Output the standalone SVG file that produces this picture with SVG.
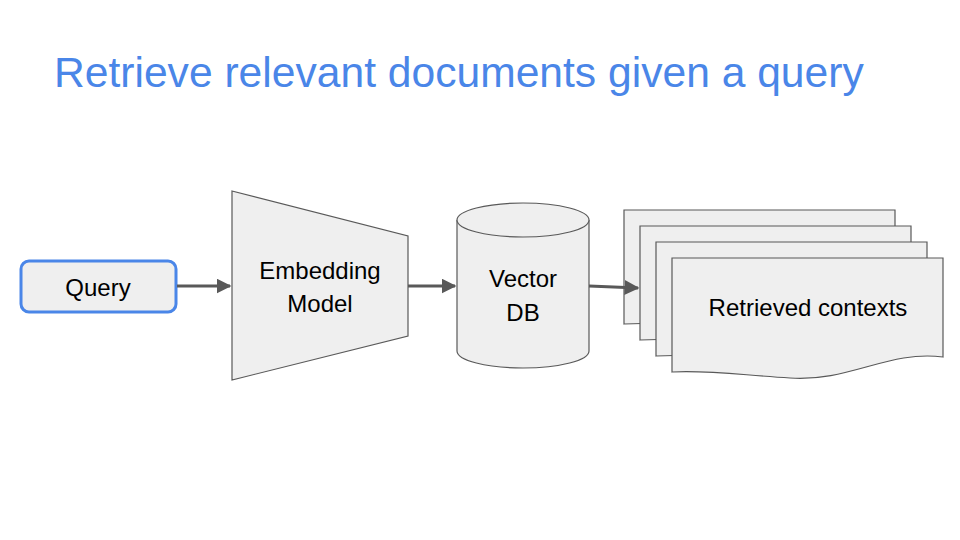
<svg xmlns="http://www.w3.org/2000/svg" width="960" height="540" viewBox="0 0 960 540">
<style>
.s{fill:#efefef;stroke:#595959;stroke-width:1.2}
.t{font-family:"Liberation Sans",Arial,sans-serif;font-size:24px;fill:#000;text-anchor:middle}
.c{stroke:#595959;stroke-width:3;fill:none}
</style>
<defs><marker id="a" viewBox="0 0 10 10" refX="9" refY="5" markerWidth="5" markerHeight="5" orient="auto" markerUnits="strokeWidth"><path d="M0,0L10,5L0,10z" fill="#595959"/></marker></defs>
<rect width="960" height="540" fill="#fff"/>
<text x="54" y="87" font-family="'Liberation Sans',Arial,sans-serif" font-size="42.6" fill="#4a86e8">Retrieve relevant documents given a query</text>
<g id="query"><rect x="21" y="261" width="155" height="51" rx="8" fill="#efefef" stroke="#4a86e8" stroke-width="3"/><text class="t" x="98" y="296">Query</text></g>
<g id="embedding"><path class="s" d="M232,191L408,236L408,336L232,380Z"/><text class="t" x="320" y="279">Embedding</text><text class="t" x="320" y="312">Model</text></g>
<g id="vectordb"><path class="s" d="M457,220A66,17 0 0 1 589,220L589,351A66,17 0 0 1 457,351Z"/><path class="s" d="M457,220A66,17 0 0 0 589,220" fill="none"/><text class="t" x="523" y="287">Vector</text><text class="t" x="523" y="321">DB</text></g>
<g id="contexts">
<path class="s" d="M624,210H895V320C840,310 800,340 740,332C690,326 660,322 624,324Z"/>
<path class="s" d="M640,226H911V336C856,326 816,356 756,348C706,342 676,338 640,340Z"/>
<path class="s" d="M656,242H927V352C872,342 832,372 772,364C722,358 692,354 656,356Z"/>
<path class="s" d="M672,258H943V357C888,350 850,382 790,378C740,375 710,370 672,372Z"/>
<text class="t" x="808" y="316">Retrieved contexts</text>
</g>
<g id="connectors">
<line class="c" x1="177" y1="286" x2="230" y2="286" marker-end="url(#a)"/>
<line class="c" x1="408" y1="286" x2="455" y2="286" marker-end="url(#a)"/>
<line class="c" x1="589" y1="286" x2="638" y2="288" marker-end="url(#a)"/>
</g>
</svg>
